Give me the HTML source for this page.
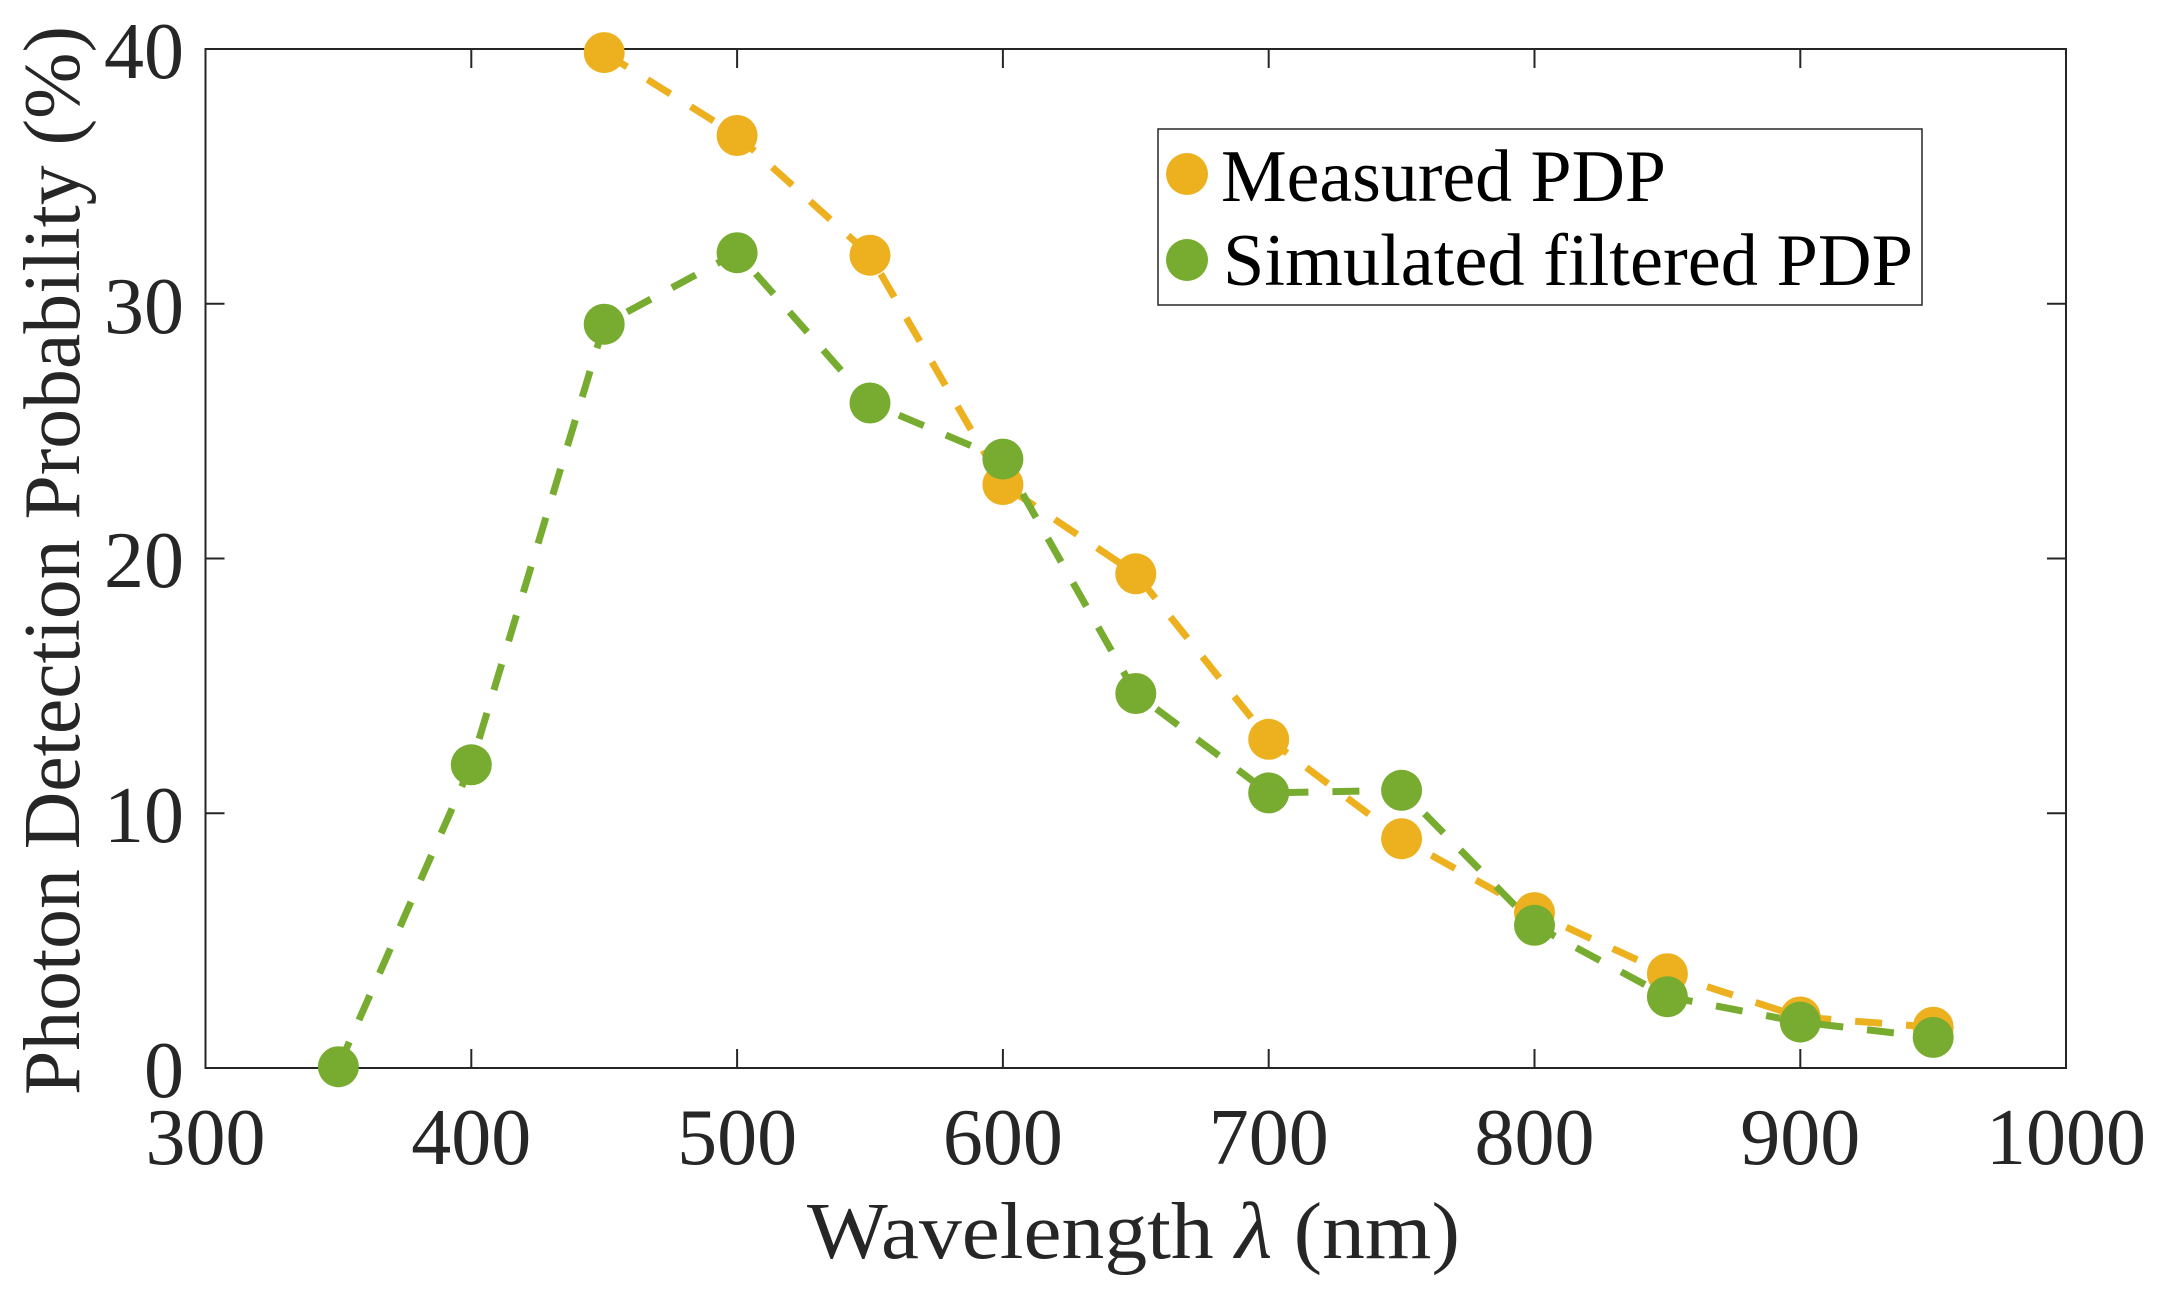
<!DOCTYPE html>
<html><head><meta charset="utf-8"><style>
html,body{margin:0;padding:0;background:#fff;}
svg{display:block;}
text{font-family:"Liberation Serif","Times New Roman",serif;fill:#262626;}
</style></head><body>
<svg width="2163" height="1290" viewBox="0 0 2163 1290" xmlns="http://www.w3.org/2000/svg">
<rect x="205.5" y="49" width="1860.5" height="1019" fill="none" stroke="#262626" stroke-width="2"/>
<g stroke="#262626" stroke-width="2">
<line x1="471.3" y1="1068" x2="471.3" y2="1049"/><line x1="471.3" y1="49" x2="471.3" y2="68"/>
<line x1="737.1" y1="1068" x2="737.1" y2="1049"/><line x1="737.1" y1="49" x2="737.1" y2="68"/>
<line x1="1002.9" y1="1068" x2="1002.9" y2="1049"/><line x1="1002.9" y1="49" x2="1002.9" y2="68"/>
<line x1="1268.7" y1="1068" x2="1268.7" y2="1049"/><line x1="1268.7" y1="49" x2="1268.7" y2="68"/>
<line x1="1534.5" y1="1068" x2="1534.5" y2="1049"/><line x1="1534.5" y1="49" x2="1534.5" y2="68"/>
<line x1="1800.3" y1="1068" x2="1800.3" y2="1049"/><line x1="1800.3" y1="49" x2="1800.3" y2="68"/>
<line x1="205.5" y1="813.3" x2="224.5" y2="813.3"/><line x1="2066" y1="813.3" x2="2047" y2="813.3"/>
<line x1="205.5" y1="558.5" x2="224.5" y2="558.5"/><line x1="2066" y1="558.5" x2="2047" y2="558.5"/>
<line x1="205.5" y1="303.8" x2="224.5" y2="303.8"/><line x1="2066" y1="303.8" x2="2047" y2="303.8"/>
</g>
<g font-size="80" text-anchor="middle">
<text x="205.5" y="1164">300</text>
<text x="471.3" y="1164">400</text>
<text x="737.1" y="1164">500</text>
<text x="1002.9" y="1164">600</text>
<text x="1268.7" y="1164">700</text>
<text x="1534.5" y="1164">800</text>
<text x="1800.3" y="1164">900</text>
<text x="2066" y="1164">1000</text>
</g>
<g font-size="80" text-anchor="end">
<text x="184" y="1097">0</text>
<text x="184" y="842">10</text>
<text x="184" y="587">20</text>
<text x="184" y="333">30</text>
<text x="184" y="78">40</text>
</g>
<text x="807" y="1258" font-size="80" textLength="653" lengthAdjust="spacingAndGlyphs">Wavelength <tspan font-style="italic">λ</tspan> (nm)</text>
<text transform="translate(79,1095) rotate(-90)" x="0" y="0" font-size="80" textLength="1069" lengthAdjust="spacingAndGlyphs">Photon Detection Probability (%)</text>
<g fill="none" stroke-width="7" stroke-dasharray="27 24">
<polyline stroke="#EDB120" points="604.2,52.6 737.1,135.5 870,255.2 1002.9,484.6 1135.8,573.8 1268.7,739.3 1401.6,838.7 1534.5,912.6 1667.4,973.7 1800.3,1017.0 1933.2,1027.2"/>
<polyline stroke="#77AC30" points="338.4,1066.7 471.3,764.8 604.2,324.2 737.1,252.7 870,403.0 1002.9,459.1 1135.8,693.5 1268.7,792.9 1401.6,790.3 1534.5,925.3 1667.4,996.7 1800.3,1022.1 1933.2,1037.4"/>
</g>
<g fill="#EDB120">
<circle cx="604.2" cy="52.6" r="20.5"/><circle cx="737.1" cy="135.5" r="20.5"/><circle cx="870" cy="255.2" r="20.5"/><circle cx="1002.9" cy="484.6" r="20.5"/><circle cx="1135.8" cy="573.8" r="20.5"/><circle cx="1268.7" cy="739.3" r="20.5"/><circle cx="1401.6" cy="838.7" r="20.5"/><circle cx="1534.5" cy="912.6" r="20.5"/><circle cx="1667.4" cy="973.7" r="20.5"/><circle cx="1800.3" cy="1017.0" r="20.5"/><circle cx="1933.2" cy="1027.2" r="20.5"/>
</g>
<g fill="#77AC30">
<circle cx="338.4" cy="1066.7" r="20.5"/><circle cx="471.3" cy="764.8" r="20.5"/><circle cx="604.2" cy="324.2" r="20.5"/><circle cx="737.1" cy="252.7" r="20.5"/><circle cx="870" cy="403.0" r="20.5"/><circle cx="1002.9" cy="459.1" r="20.5"/><circle cx="1135.8" cy="693.5" r="20.5"/><circle cx="1268.7" cy="792.9" r="20.5"/><circle cx="1401.6" cy="790.3" r="20.5"/><circle cx="1534.5" cy="925.3" r="20.5"/><circle cx="1667.4" cy="996.7" r="20.5"/><circle cx="1800.3" cy="1022.1" r="20.5"/><circle cx="1933.2" cy="1037.4" r="20.5"/>
</g>
<rect x="1158" y="129" width="764" height="176" fill="#fff" stroke="#262626" stroke-width="1.5"/>
<circle cx="1187" cy="174" r="21" fill="#EDB120"/>
<circle cx="1187" cy="260" r="21" fill="#77AC30"/>
<text x="1221" y="201" font-size="74" style="fill:#000" textLength="445" lengthAdjust="spacingAndGlyphs">Measured PDP</text>
<text x="1223" y="285" font-size="74" style="fill:#000" textLength="690" lengthAdjust="spacingAndGlyphs">Simulated filtered PDP</text>
</svg>
</body></html>
